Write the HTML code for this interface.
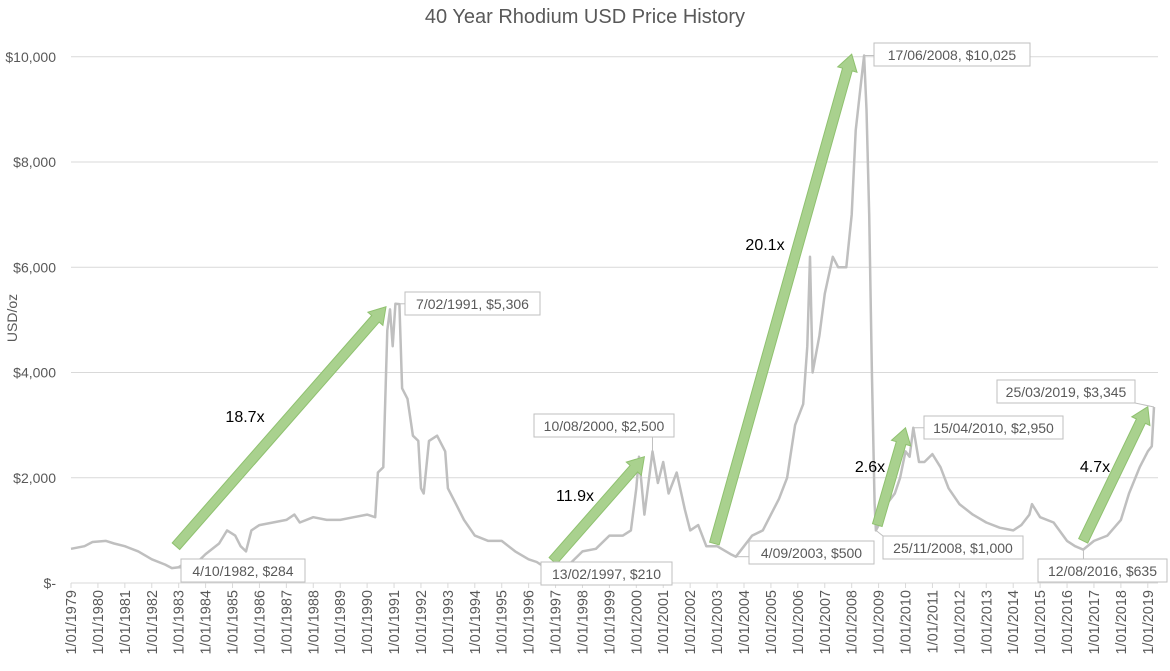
<!DOCTYPE html>
<html><head><meta charset="utf-8"><style>
body{margin:0;background:#fff;}
svg{display:block;font-family:"Liberation Sans",Calibri,sans-serif;}
</style></head><body>
<svg id="chart" width="1170" height="671" viewBox="0 0 1170 671">
<text x="585" y="23" text-anchor="middle" font-size="20" fill="#595959">40 Year Rhodium USD Price History</text>
<text transform="translate(17,318) rotate(-90)" text-anchor="middle" font-size="14" fill="#595959">USD/oz</text>
<g id="grid"></g><g id="xaxis"></g><g id="series"></g><g id="arrows"></g><g id="notes"></g>
</svg>
<script>
const yTicks=[0,2000,4000,6000,8000,10000];
const yTickLabels=["$-","$2,000","$4,000","$6,000","$8,000","$10,000"];
const xYears=[1979,1980,1981,1982,1983,1984,1985,1986,1987,1988,1989,1990,1991,1992,1993,1994,1995,1996,1997,1998,1999,2000,2001,2002,2003,2004,2005,2006,2007,2008,2009,2010,2011,2012,2013,2014,2015,2016,2017,2018,2019];
const dates=[1979.0,1979.5,1979.8,1980.3,1980.6,1981.0,1981.5,1982.0,1982.5,1982.75,1983.0,1983.3,1983.7,1984.0,1984.5,1984.8,1985.1,1985.3,1985.5,1985.7,1986.0,1986.5,1987.0,1987.3,1987.5,1988.0,1988.5,1989.0,1989.5,1990.0,1990.3,1990.4,1990.6,1990.75,1990.85,1990.95,1991.05,1991.2,1991.3,1991.5,1991.7,1991.9,1992.0,1992.1,1992.3,1992.6,1992.9,1993.0,1993.3,1993.6,1994.0,1994.5,1995.0,1995.5,1996.0,1996.3,1996.6,1997.1,1997.5,1998.0,1998.5,1999.0,1999.5,1999.8,2000.0,2000.1,2000.3,2000.6,2000.8,2001.0,2001.2,2001.5,2001.8,2002.0,2002.3,2002.6,2003.0,2003.5,2003.7,2004.0,2004.3,2004.7,2005.0,2005.3,2005.6,2005.9,2006.2,2006.35,2006.45,2006.55,2006.8,2007.0,2007.3,2007.5,2007.8,2008.0,2008.15,2008.3,2008.46,2008.55,2008.65,2008.75,2008.85,2008.9,2009.1,2009.3,2009.6,2009.8,2010.0,2010.15,2010.29,2010.5,2010.7,2011.0,2011.3,2011.6,2012.0,2012.5,2013.0,2013.5,2014.0,2014.3,2014.6,2014.7,2015.0,2015.5,2016.0,2016.3,2016.6,2017.0,2017.5,2018.0,2018.3,2018.7,2019.0,2019.15,2019.23];
const prices=[650,700,780,800,750,700,600,450,350,284,300,400,400,550,750,1000,900,700,600,1000,1100,1150,1200,1300,1150,1250,1200,1200,1250,1300,1250,2100,2200,4800,5200,4500,5306,5300,3700,3500,2800,2700,1800,1700,2700,2800,2500,1800,1500,1200,900,800,800,600,450,400,300,210,350,600,650,900,900,1000,1800,2400,1300,2500,1900,2300,1700,2100,1400,1000,1100,700,700,550,500,700,900,1000,1300,1600,2000,3000,3400,4500,6200,4000,4700,5500,6200,6000,6000,7000,8600,9300,10025,9000,7000,4000,1500,1000,1200,1500,1700,2000,2500,2400,2950,2300,2300,2450,2200,1800,1500,1300,1150,1050,1000,1100,1300,1500,1250,1150,800,700,635,800,900,1200,1700,2200,2500,2600,3345];
const noteDates=[1982.75,1991.1,2000.6,1997.12,2008.46,2003.68,2008.9,2010.29,2019.23,2016.61];
const noteValues=[284,5306,2500,210,10025,500,1000,2950,3345,635];
const noteLabels=["4/10/1982,  $284","7/02/1991,  $5,306","10/08/2000,  $2,500","13/02/1997,  $210","17/06/2008,  $10,025","4/09/2003,  $500","25/11/2008,  $1,000","15/04/2010,  $2,950","25/03/2019,  $3,345","12/08/2016,  $635"];
const growthLabels=["18.7x","11.9x","20.1x","2.6x","4.7x"];
const growthFrom=[[1982.9,700],[1996.9,420],[2002.9,750],[2008.95,1100],[2016.6,800]];
const growthTo=[[1990.7,5250],[2000.3,2400],[2008.0,10050],[2010.0,2950],[2019.0,3350]];

const NS="http://www.w3.org/2000/svg";
const X=d=>71+(d-1979)*26.92;
const Y=v=>583-v*0.05262;
function mk(tag,attrs,parent){const e=document.createElementNS(NS,tag);for(const k in attrs)e.setAttribute(k,attrs[k]);parent.appendChild(e);return e;}
const grid=document.getElementById('grid');
yTicks.forEach((t,i)=>{
  if(t>0){const l=mk('line',{x1:71,x2:1158,y1:Y(t),y2:Y(t),stroke:'#d9d9d9','stroke-width':1},grid);
  
  }
  const tx=mk('text',{x:56,y:Y(t)+5,'text-anchor':'end','font-size':14,fill:'#595959'},grid);
  tx.textContent=yTickLabels[i];
  
  
});
const xa=document.getElementById('xaxis');
const base=mk('line',{x1:71,x2:1158,y1:583,y2:583,stroke:'#d9d9d9','stroke-width':1},xa);


xYears.forEach(yr=>{
  const x=X(yr);
  mk('line',{x1:x,x2:x,y1:583,y2:588,stroke:'#d9d9d9'},xa);
  const t=mk('text',{transform:`translate(${x+5},590) rotate(-90)`,'text-anchor':'end','font-size':14.5,fill:'#595959'},xa);
  t.textContent='1/01/'+yr;
  
  
});
const s=document.getElementById('series');
const p=mk('polyline',{points:dates.map((d,i)=>X(d).toFixed(1)+','+Y(prices[i]).toFixed(1)).join(' '),fill:'none',stroke:'#bfbfbf','stroke-width':2.5,'stroke-linejoin':'round'},s);


const ar=document.getElementById('arrows');
growthFrom.forEach((f,i)=>{
  const x1=X(f[0]),y1=Y(f[1]),x2=X(growthTo[i][0]),y2=Y(growthTo[i][1]);
  const dx=x2-x1,dy=y2-y1,L=Math.hypot(dx,dy),ux=dx/L,uy=dy/L,nx=-uy,ny=ux;
  const w=5,hw=10,hl=16;const bx=x2-ux*hl,by=y2-uy*hl;
  const pts=[[x1+nx*w,y1+ny*w],[bx+nx*w,by+ny*w],[bx+nx*hw,by+ny*hw],[x2,y2],[bx-nx*hw,by-ny*hw],[bx-nx*w,by-ny*w],[x1-nx*w,y1-ny*w]];
  const a=mk('polygon',{points:pts.map(q=>q[0].toFixed(1)+','+q[1].toFixed(1)).join(' '),fill:'#a9d18e',stroke:'#8fc16f','stroke-width':1},ar);
  
  
});
const lblPos=[[245,422],[575,501],[765,250],[870,472],[1095,472]];
growthLabels.forEach((g,i)=>{
  const t=mk('text',{x:lblPos[i][0],y:lblPos[i][1],'text-anchor':'middle','font-size':16,fill:'#000'},ar);
  t.textContent=g;
  
  
});
const boxes=[[181,559,124],[405,292,135],[534,414,140],[541,562,131],[874,43,156],[749,541,125],[883,536,140],[924,416,139],[997,380,138],[1038,559,129]];
const nt=document.getElementById('notes');
noteLabels.forEach((lab,i)=>{
  const [bx,by,bw]=boxes[i];const px=X(noteDates[i]),py=Y(noteValues[i]);
  const cx=Math.max(bx,Math.min(bx+bw,px)),cy=Math.max(by,Math.min(by+23,py));
  mk('line',{x1:px,y1:py,x2:cx,y2:cy,stroke:'#bfbfbf'},nt);
  const r=mk('rect',{x:bx,y:by,width:bw,height:23,fill:'#fff',stroke:'#bfbfbf'},nt);
  
  
  const t=mk('text',{x:bx+bw/2,y:by+17,'text-anchor':'middle','font-size':14,fill:'#595959','xml:space':'preserve'},nt);
  t.textContent=lab;
  
  
});
</script>
</body></html>
